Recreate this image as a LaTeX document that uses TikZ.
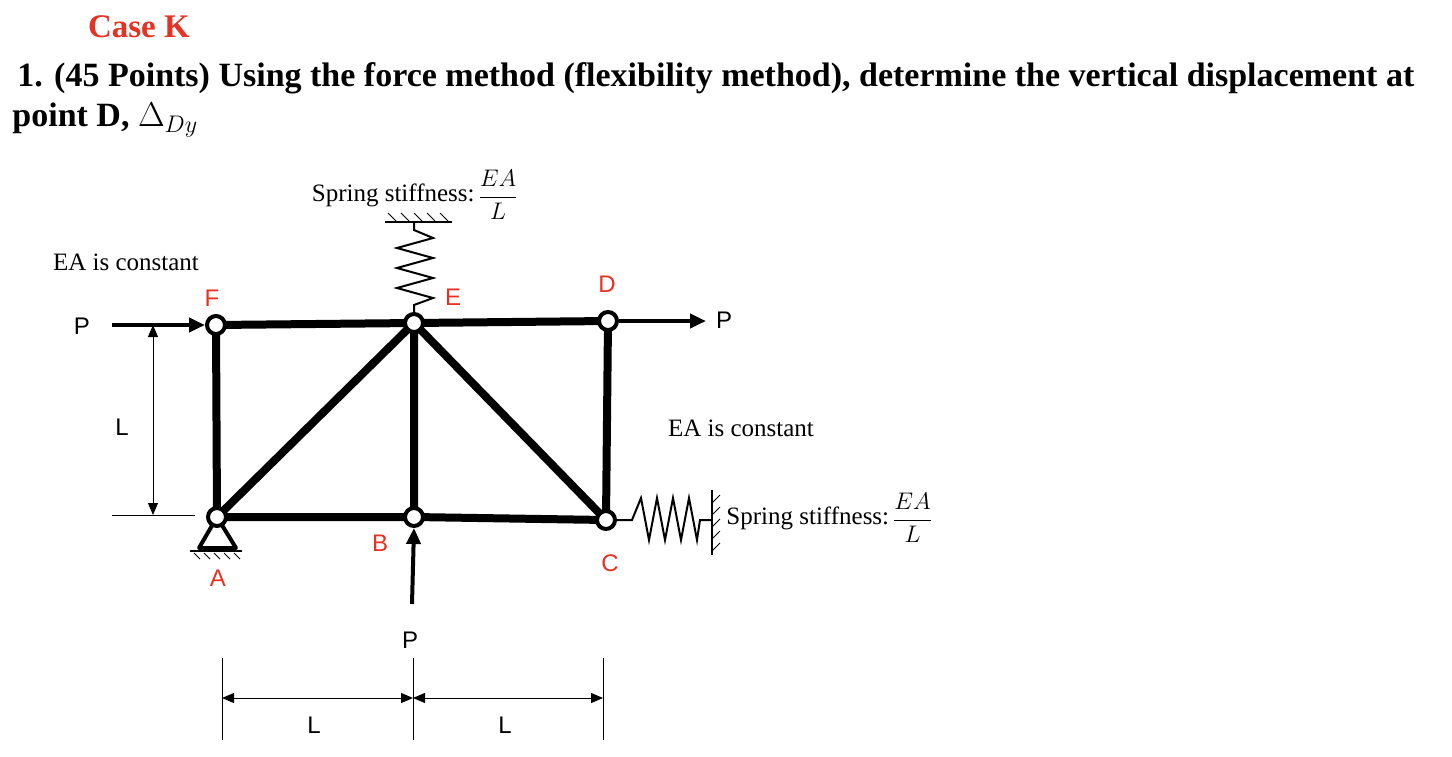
\documentclass[tikz,border=0pt]{standalone}
\usepackage{amsmath}
\usepackage{fontspec}
\setmainfont{Liberation Serif}
\newfontfamily\lsans{Liberation Sans}
\usetikzlibrary{arrows.meta}
\definecolor{cred}{RGB}{230,50,35}
\begin{document}
\begin{tikzpicture}[x=0.5pt,y=-0.5pt,
  member/.style={line width=4pt},
  joint/.style={circle,draw,fill=white,line width=2pt,minimum size=9pt,inner sep=0pt},
  lab/.style={font=\lsans\fontsize{12}{14}\selectfont,text=cred},
  plab/.style={font=\lsans\fontsize{12}{14}\selectfont},
  txt/.style={font=\fontsize{12.5}{14}\selectfont},
  load/.style={line width=2pt,-{Triangle[length=8pt,width=7pt]}},
  dim/.style={line width=0.5pt,{Triangle[length=6pt,width=5pt]}-{Triangle[length=6pt,width=5pt]}},
  thin/.style={line width=0.5pt},
  spring/.style={line width=1pt}]
\useasboundingbox (0,0) rectangle (1452,756);
\node[anchor=west,font=\bfseries\fontsize{16.5}{18}\selectfont,text=cred] (title) at (81,27) {Case K};
\node[anchor=west,font=\bfseries\fontsize{17}{18}\selectfont,inner sep=0] (q1) at (17,78) {1. (45 Points) Using the force method (flexibility method), determine the vertical displacement at};
\node[anchor=west,font=\bfseries\fontsize{17}{18}\selectfont,inner sep=0] (q2) at (12,120) {point D, $\Delta_{Dy}$};
% members
\coordinate (F) at (216,325); \coordinate (E) at (414,323); \coordinate (D) at (608,321);
\coordinate (A) at (217,517); \coordinate (B) at (414,517); \coordinate (C) at (606,520);
\draw[member] (F)--(E)--(D)--(C)--(B)--(A)--(F) (A)--(E)--(B) (E)--(C);
% support A
\draw[line width=2pt,line join=round] (A)--(199,548)--(236,548)--cycle;
\draw[line width=1pt] (190,551)--(242,551);
\foreach \x in {194,204,214,224,234} \draw[thin] (\x,553)--(\x+6,559);
% spring E
\draw[line width=1pt] (385,222)--(452,222);
\foreach \x in {388,401,414,427,440} \draw[thin] (\x,213)--(\x+8,221);
\draw[spring] (414,222)--(414,230)--(433,238)--(397,248)--(433,258)--(397,268)--(433,278)--(397,288)--(433,298)--(414,305)--(414,316);
% spring C
\draw[line width=1pt] (712,490)--(712,555);
\foreach \y in {495,507,519,531,543} \draw[thin] (712,\y+8)--(720,\y);
\draw[spring] (614,520)--(632,520)--(641,498)--(649,540)--(657,498)--(665,540)--(673,498)--(681,540)--(689,498)--(697,540)--(700,520)--(712,520);
% joints
\foreach \n in {F,E,D,A,B,C} \node[joint] (j\n) at (\n) {};
% labels
\node[lab] (lF) at (212,298) {F};
\node[lab] (lE) at (453,297) {E};
\node[lab] (lD) at (607,284) {D};
\node[lab] (lB) at (380,543) {B};
\node[lab] (lC) at (610,563) {C};
\node[lab] (lA) at (218,578) {A};
\node[txt] (ea1) at (126,262) {EA is constant};
\node[txt] (ea2) at (741,428) {EA is constant};
\node[txt,anchor=east,inner sep=0] (s1) at (475,195) {Spring stiffness:};
\node[txt,anchor=west,inner sep=0] (f1) at ([xshift=1pt]s1.east) {$\dfrac{EA}{L}$};
\node[txt,anchor=west,inner sep=0] (s2) at (726,518) {Spring stiffness:};
\node[txt,anchor=west,inner sep=0] (f2) at ([xshift=1pt]s2.east) {$\dfrac{EA}{L}$};
% loads
\node[plab] (P1) at (82,326) {P};
\coordinate (p1s) at (112,325); \draw[load] (p1s)--(jF.west);
\node[plab] (P2) at (724,320) {P};
\coordinate (p2e) at (706,321); \draw[load] (jD.east)--(p2e);
\node[plab] (P3) at (410,640) {P};
\coordinate (p3s) at (412,604); \draw[load] (p3s)--(jB.south);
% dimensions
\coordinate (d1) at (112,515); \coordinate (d1e) at (195,515);
\draw[thin] (d1)--(d1e);
\coordinate (v1) at (153,325); \coordinate (v2) at (153,515);
\draw[dim] (v1)--(v2);
\node[plab] (L1) at (122,427) {L};
\coordinate (t1) at (222,658); \coordinate (t1b) at (222,740);
\coordinate (t2) at (413,658); \coordinate (t2b) at (413,740);
\coordinate (t3) at (603,658); \coordinate (t3b) at (603,740);
\draw[thin] (t1)--(t1b) (t2)--(t2b) (t3)--(t3b);
\coordinate (h1) at (222,698); \coordinate (h2) at (413,698); \coordinate (h3) at (603,698);
\draw[dim] (h1)--(h2); \draw[dim] (h2)--(h3);
\node[plab] (L2) at (314,725) {L};
\node[plab] (L3) at (505,725) {L};
\end{tikzpicture}
\end{document}
